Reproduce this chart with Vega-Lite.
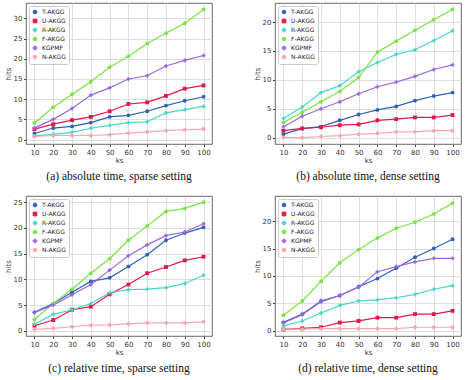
{
"$schema":"https://vega.github.io/schema/vega-lite/v6.json",
"padding":{"left":4,"top":2,"right":6,"bottom":0},
"background":"white",
"config":{
 "view":{"stroke":"#444","strokeWidth":0.8},
 "axis":{"labelFontSize":7,"titleFontSize":7,"labelFont":"DejaVu Sans","titleFont":"DejaVu Sans","titleFontWeight":"normal","labelColor":"#333","titleColor":"#333","gridColor":"#d6d6d6","gridWidth":0.8,"tickColor":"#444","tickSize":2.5,"domain":false,"labelPadding":1.5,"titlePadding":1.5},
 "legend":{"orient":"top-left","offset":3,"fillColor":"white","strokeColor":"#cccccc","cornerRadius":2,"padding":3,"labelFontSize":6,"labelFont":"DejaVu Sans","labelColor":"#222","symbolSize":14,"rowPadding":1,"symbolStrokeWidth":1,"labelOffset":4},
 "title":{"font":"Liberation Serif","fontSize":11.5,"fontWeight":"normal","color":"#111","orient":"bottom","frame":"group","anchor":"middle","offset":7}
},
"data":{"values":[
{"p":"a","m":"T-AKGG","ks":10,"v":1.5},{"p":"a","m":"T-AKGG","ks":20,"v":2.85},{"p":"a","m":"T-AKGG","ks":30,"v":3.25},{"p":"a","m":"T-AKGG","ks":40,"v":4.2},{"p":"a","m":"T-AKGG","ks":50,"v":5.6},{"p":"a","m":"T-AKGG","ks":60,"v":6.0},{"p":"a","m":"T-AKGG","ks":70,"v":7.0},{"p":"a","m":"T-AKGG","ks":80,"v":8.4},{"p":"a","m":"T-AKGG","ks":90,"v":9.6},{"p":"a","m":"T-AKGG","ks":100,"v":10.6},
{"p":"a","m":"U-AKGG","ks":10,"v":2.6},{"p":"a","m":"U-AKGG","ks":20,"v":3.8},{"p":"a","m":"U-AKGG","ks":30,"v":4.8},{"p":"a","m":"U-AKGG","ks":40,"v":5.6},{"p":"a","m":"U-AKGG","ks":50,"v":7.0},{"p":"a","m":"U-AKGG","ks":60,"v":8.8},{"p":"a","m":"U-AKGG","ks":70,"v":9.2},{"p":"a","m":"U-AKGG","ks":80,"v":10.8},{"p":"a","m":"U-AKGG","ks":90,"v":12.6},{"p":"a","m":"U-AKGG","ks":100,"v":13.4},
{"p":"a","m":"R-AKGG","ks":10,"v":0.9},{"p":"a","m":"R-AKGG","ks":20,"v":1.3},{"p":"a","m":"R-AKGG","ks":30,"v":1.8},{"p":"a","m":"R-AKGG","ks":40,"v":2.8},{"p":"a","m":"R-AKGG","ks":50,"v":3.5},{"p":"a","m":"R-AKGG","ks":60,"v":4.2},{"p":"a","m":"R-AKGG","ks":70,"v":4.4},{"p":"a","m":"R-AKGG","ks":80,"v":6.6},{"p":"a","m":"R-AKGG","ks":90,"v":7.4},{"p":"a","m":"R-AKGG","ks":100,"v":8.2},
{"p":"a","m":"F-AKGG","ks":10,"v":4.1},{"p":"a","m":"F-AKGG","ks":20,"v":8.0},{"p":"a","m":"F-AKGG","ks":30,"v":11.2},{"p":"a","m":"F-AKGG","ks":40,"v":14.3},{"p":"a","m":"F-AKGG","ks":50,"v":17.9},{"p":"a","m":"F-AKGG","ks":60,"v":20.6},{"p":"a","m":"F-AKGG","ks":70,"v":23.8},{"p":"a","m":"F-AKGG","ks":80,"v":26.3},{"p":"a","m":"F-AKGG","ks":90,"v":28.8},{"p":"a","m":"F-AKGG","ks":100,"v":32.2},
{"p":"a","m":"KGPMF","ks":10,"v":2.9},{"p":"a","m":"KGPMF","ks":20,"v":5.0},{"p":"a","m":"KGPMF","ks":30,"v":7.7},{"p":"a","m":"KGPMF","ks":40,"v":11.0},{"p":"a","m":"KGPMF","ks":50,"v":12.8},{"p":"a","m":"KGPMF","ks":60,"v":15.0},{"p":"a","m":"KGPMF","ks":70,"v":15.8},{"p":"a","m":"KGPMF","ks":80,"v":18.2},{"p":"a","m":"KGPMF","ks":90,"v":19.6},{"p":"a","m":"KGPMF","ks":100,"v":20.8},
{"p":"a","m":"N-AKGG","ks":10,"v":0.8},{"p":"a","m":"N-AKGG","ks":20,"v":1.0},{"p":"a","m":"N-AKGG","ks":30,"v":1.0},{"p":"a","m":"N-AKGG","ks":40,"v":1.0},{"p":"a","m":"N-AKGG","ks":50,"v":1.2},{"p":"a","m":"N-AKGG","ks":60,"v":1.6},{"p":"a","m":"N-AKGG","ks":70,"v":1.9},{"p":"a","m":"N-AKGG","ks":80,"v":2.2},{"p":"a","m":"N-AKGG","ks":90,"v":2.4},{"p":"a","m":"N-AKGG","ks":100,"v":2.6},
{"p":"b","m":"T-AKGG","ks":10,"v":0.6},{"p":"b","m":"T-AKGG","ks":20,"v":1.55},{"p":"b","m":"T-AKGG","ks":30,"v":1.9},{"p":"b","m":"T-AKGG","ks":40,"v":3.0},{"p":"b","m":"T-AKGG","ks":50,"v":4.0},{"p":"b","m":"T-AKGG","ks":60,"v":4.8},{"p":"b","m":"T-AKGG","ks":70,"v":5.4},{"p":"b","m":"T-AKGG","ks":80,"v":6.4},{"p":"b","m":"T-AKGG","ks":90,"v":7.2},{"p":"b","m":"T-AKGG","ks":100,"v":7.8},
{"p":"b","m":"U-AKGG","ks":10,"v":1.2},{"p":"b","m":"U-AKGG","ks":20,"v":1.6},{"p":"b","m":"U-AKGG","ks":30,"v":1.8},{"p":"b","m":"U-AKGG","ks":40,"v":2.15},{"p":"b","m":"U-AKGG","ks":50,"v":2.3},{"p":"b","m":"U-AKGG","ks":60,"v":3.0},{"p":"b","m":"U-AKGG","ks":70,"v":3.2},{"p":"b","m":"U-AKGG","ks":80,"v":3.5},{"p":"b","m":"U-AKGG","ks":90,"v":3.5},{"p":"b","m":"U-AKGG","ks":100,"v":3.9},
{"p":"b","m":"R-AKGG","ks":10,"v":3.3},{"p":"b","m":"R-AKGG","ks":20,"v":5.3},{"p":"b","m":"R-AKGG","ks":30,"v":7.8},{"p":"b","m":"R-AKGG","ks":40,"v":9.0},{"p":"b","m":"R-AKGG","ks":50,"v":11.4},{"p":"b","m":"R-AKGG","ks":60,"v":13.0},{"p":"b","m":"R-AKGG","ks":70,"v":14.4},{"p":"b","m":"R-AKGG","ks":80,"v":15.2},{"p":"b","m":"R-AKGG","ks":90,"v":16.8},{"p":"b","m":"R-AKGG","ks":100,"v":18.5},
{"p":"b","m":"F-AKGG","ks":10,"v":2.6},{"p":"b","m":"F-AKGG","ks":20,"v":4.4},{"p":"b","m":"F-AKGG","ks":30,"v":6.2},{"p":"b","m":"F-AKGG","ks":40,"v":8.0},{"p":"b","m":"F-AKGG","ks":50,"v":10.4},{"p":"b","m":"F-AKGG","ks":60,"v":14.8},{"p":"b","m":"F-AKGG","ks":70,"v":16.7},{"p":"b","m":"F-AKGG","ks":80,"v":18.6},{"p":"b","m":"F-AKGG","ks":90,"v":20.4},{"p":"b","m":"F-AKGG","ks":100,"v":22.2},
{"p":"b","m":"KGPMF","ks":10,"v":1.9},{"p":"b","m":"KGPMF","ks":20,"v":3.7},{"p":"b","m":"KGPMF","ks":30,"v":5.0},{"p":"b","m":"KGPMF","ks":40,"v":6.2},{"p":"b","m":"KGPMF","ks":50,"v":7.6},{"p":"b","m":"KGPMF","ks":60,"v":8.8},{"p":"b","m":"KGPMF","ks":70,"v":9.6},{"p":"b","m":"KGPMF","ks":80,"v":10.6},{"p":"b","m":"KGPMF","ks":90,"v":11.8},{"p":"b","m":"KGPMF","ks":100,"v":12.6},
{"p":"b","m":"N-AKGG","ks":10,"v":0.05},{"p":"b","m":"N-AKGG","ks":20,"v":0.0},{"p":"b","m":"N-AKGG","ks":30,"v":0.2},{"p":"b","m":"N-AKGG","ks":40,"v":0.35},{"p":"b","m":"N-AKGG","ks":50,"v":0.6},{"p":"b","m":"N-AKGG","ks":60,"v":0.75},{"p":"b","m":"N-AKGG","ks":70,"v":1.0},{"p":"b","m":"N-AKGG","ks":80,"v":1.0},{"p":"b","m":"N-AKGG","ks":90,"v":1.2},{"p":"b","m":"N-AKGG","ks":100,"v":1.2},
{"p":"c","m":"T-AKGG","ks":10,"v":3.6},{"p":"c","m":"T-AKGG","ks":20,"v":5.3},{"p":"c","m":"T-AKGG","ks":30,"v":7.5},{"p":"c","m":"T-AKGG","ks":40,"v":9.6},{"p":"c","m":"T-AKGG","ks":50,"v":10.3},{"p":"c","m":"T-AKGG","ks":60,"v":12.5},{"p":"c","m":"T-AKGG","ks":70,"v":14.8},{"p":"c","m":"T-AKGG","ks":80,"v":17.6},{"p":"c","m":"T-AKGG","ks":90,"v":19.0},{"p":"c","m":"T-AKGG","ks":100,"v":20.1},
{"p":"c","m":"U-AKGG","ks":10,"v":1.0},{"p":"c","m":"U-AKGG","ks":20,"v":2.1},{"p":"c","m":"U-AKGG","ks":30,"v":4.1},{"p":"c","m":"U-AKGG","ks":40,"v":4.7},{"p":"c","m":"U-AKGG","ks":50,"v":7.1},{"p":"c","m":"U-AKGG","ks":60,"v":9.0},{"p":"c","m":"U-AKGG","ks":70,"v":11.2},{"p":"c","m":"U-AKGG","ks":80,"v":12.4},{"p":"c","m":"U-AKGG","ks":90,"v":13.7},{"p":"c","m":"U-AKGG","ks":100,"v":14.4},
{"p":"c","m":"R-AKGG","ks":10,"v":1.3},{"p":"c","m":"R-AKGG","ks":20,"v":3.2},{"p":"c","m":"R-AKGG","ks":30,"v":4.1},{"p":"c","m":"R-AKGG","ks":40,"v":5.3},{"p":"c","m":"R-AKGG","ks":50,"v":7.4},{"p":"c","m":"R-AKGG","ks":60,"v":8.0},{"p":"c","m":"R-AKGG","ks":70,"v":8.1},{"p":"c","m":"R-AKGG","ks":80,"v":8.4},{"p":"c","m":"R-AKGG","ks":90,"v":9.2},{"p":"c","m":"R-AKGG","ks":100,"v":10.8},
{"p":"c","m":"F-AKGG","ks":10,"v":2.2},{"p":"c","m":"F-AKGG","ks":20,"v":5.3},{"p":"c","m":"F-AKGG","ks":30,"v":8.1},{"p":"c","m":"F-AKGG","ks":40,"v":11.2},{"p":"c","m":"F-AKGG","ks":50,"v":14.0},{"p":"c","m":"F-AKGG","ks":60,"v":17.6},{"p":"c","m":"F-AKGG","ks":70,"v":20.4},{"p":"c","m":"F-AKGG","ks":80,"v":23.2},{"p":"c","m":"F-AKGG","ks":90,"v":23.8},{"p":"c","m":"F-AKGG","ks":100,"v":25.0},
{"p":"c","m":"KGPMF","ks":10,"v":3.6},{"p":"c","m":"KGPMF","ks":20,"v":5.0},{"p":"c","m":"KGPMF","ks":30,"v":7.0},{"p":"c","m":"KGPMF","ks":40,"v":9.0},{"p":"c","m":"KGPMF","ks":50,"v":11.8},{"p":"c","m":"KGPMF","ks":60,"v":14.6},{"p":"c","m":"KGPMF","ks":70,"v":16.7},{"p":"c","m":"KGPMF","ks":80,"v":18.5},{"p":"c","m":"KGPMF","ks":90,"v":19.2},{"p":"c","m":"KGPMF","ks":100,"v":20.8},
{"p":"c","m":"N-AKGG","ks":10,"v":0.3},{"p":"c","m":"N-AKGG","ks":20,"v":0.5},{"p":"c","m":"N-AKGG","ks":30,"v":0.8},{"p":"c","m":"N-AKGG","ks":40,"v":1.1},{"p":"c","m":"N-AKGG","ks":50,"v":1.15},{"p":"c","m":"N-AKGG","ks":60,"v":1.35},{"p":"c","m":"N-AKGG","ks":70,"v":1.55},{"p":"c","m":"N-AKGG","ks":80,"v":1.55},{"p":"c","m":"N-AKGG","ks":90,"v":1.55},{"p":"c","m":"N-AKGG","ks":100,"v":1.75},
{"p":"d","m":"T-AKGG","ks":10,"v":1.5},{"p":"d","m":"T-AKGG","ks":20,"v":3.0},{"p":"d","m":"T-AKGG","ks":30,"v":5.4},{"p":"d","m":"T-AKGG","ks":40,"v":6.4},{"p":"d","m":"T-AKGG","ks":50,"v":8.0},{"p":"d","m":"T-AKGG","ks":60,"v":9.5},{"p":"d","m":"T-AKGG","ks":70,"v":11.4},{"p":"d","m":"T-AKGG","ks":80,"v":13.4},{"p":"d","m":"T-AKGG","ks":90,"v":15.0},{"p":"d","m":"T-AKGG","ks":100,"v":16.7},
{"p":"d","m":"U-AKGG","ks":10,"v":0.2},{"p":"d","m":"U-AKGG","ks":20,"v":0.4},{"p":"d","m":"U-AKGG","ks":30,"v":0.6},{"p":"d","m":"U-AKGG","ks":40,"v":1.45},{"p":"d","m":"U-AKGG","ks":50,"v":1.75},{"p":"d","m":"U-AKGG","ks":60,"v":2.35},{"p":"d","m":"U-AKGG","ks":70,"v":2.35},{"p":"d","m":"U-AKGG","ks":80,"v":3.0},{"p":"d","m":"U-AKGG","ks":90,"v":3.0},{"p":"d","m":"U-AKGG","ks":100,"v":3.6},
{"p":"d","m":"R-AKGG","ks":10,"v":0.85},{"p":"d","m":"R-AKGG","ks":20,"v":1.75},{"p":"d","m":"R-AKGG","ks":30,"v":3.2},{"p":"d","m":"R-AKGG","ks":40,"v":4.6},{"p":"d","m":"R-AKGG","ks":50,"v":5.4},{"p":"d","m":"R-AKGG","ks":60,"v":5.6},{"p":"d","m":"R-AKGG","ks":70,"v":6.0},{"p":"d","m":"R-AKGG","ks":80,"v":6.6},{"p":"d","m":"R-AKGG","ks":90,"v":7.55},{"p":"d","m":"R-AKGG","ks":100,"v":8.2},
{"p":"d","m":"F-AKGG","ks":10,"v":2.8},{"p":"d","m":"F-AKGG","ks":20,"v":5.4},{"p":"d","m":"F-AKGG","ks":30,"v":9.0},{"p":"d","m":"F-AKGG","ks":40,"v":12.4},{"p":"d","m":"F-AKGG","ks":50,"v":14.8},{"p":"d","m":"F-AKGG","ks":60,"v":16.9},{"p":"d","m":"F-AKGG","ks":70,"v":18.7},{"p":"d","m":"F-AKGG","ks":80,"v":19.8},{"p":"d","m":"F-AKGG","ks":90,"v":21.3},{"p":"d","m":"F-AKGG","ks":100,"v":23.3},
{"p":"d","m":"KGPMF","ks":10,"v":1.4},{"p":"d","m":"KGPMF","ks":20,"v":2.9},{"p":"d","m":"KGPMF","ks":30,"v":5.25},{"p":"d","m":"KGPMF","ks":40,"v":6.4},{"p":"d","m":"KGPMF","ks":50,"v":7.9},{"p":"d","m":"KGPMF","ks":60,"v":10.75},{"p":"d","m":"KGPMF","ks":70,"v":11.7},{"p":"d","m":"KGPMF","ks":80,"v":12.55},{"p":"d","m":"KGPMF","ks":90,"v":13.2},{"p":"d","m":"KGPMF","ks":100,"v":13.2},
{"p":"d","m":"N-AKGG","ks":10,"v":0.25},{"p":"d","m":"N-AKGG","ks":20,"v":0.25},{"p":"d","m":"N-AKGG","ks":30,"v":0.35},{"p":"d","m":"N-AKGG","ks":40,"v":0.35},{"p":"d","m":"N-AKGG","ks":50,"v":0.35},{"p":"d","m":"N-AKGG","ks":60,"v":0.35},{"p":"d","m":"N-AKGG","ks":70,"v":0.35},{"p":"d","m":"N-AKGG","ks":80,"v":0.6},{"p":"d","m":"N-AKGG","ks":90,"v":0.6},{"p":"d","m":"N-AKGG","ks":100,"v":0.6}
]},
"columns":2,
"spacing":{"column":40,"row":12},
"resolve":{"scale":{"y":"independent","color":"independent","shape":"independent"},"legend":{"color":"independent","shape":"independent"}},
"concat":[
{"title":{"text":"(a)  absolute time, sparse setting"},"width":186,"height":141,
 "transform":[{"filter":"datum.p==='a'"}],
 "encoding":{
  "x":{"field":"ks","type":"quantitative","title":"ks","scale":{"domain":[5.5,104.5],"nice":false},"axis":{"values":[10,20,30,40,50,60,70,80,90,100]}},
  "y":{"field":"v","type":"quantitative","title":"hits","scale":{"domain":[-1.1,33.8],"nice":false,"zero":false},"axis":{"values":[0,5,10,15,20,25,30]}},
  "color":{"field":"m","type":"nominal","title":null,"scale":{"domain":["T-AKGG","U-AKGG","R-AKGG","F-AKGG","KGPMF","N-AKGG"],"range":["#2e62b4","#e3184a","#48d6c6","#7ce448","#9a6ae0","#f5a9ae"]}}
 },
 "layer":[
  {"mark":{"type":"line","strokeWidth":1.2}},
  {"mark":{"type":"point","filled":true,"opacity":1,"size":15},"encoding":{"shape":{"field":"m","type":"nominal","title":null,"scale":{"domain":["T-AKGG","U-AKGG","R-AKGG","F-AKGG","KGPMF","N-AKGG"],"range":["circle","square","cross","circle","cross","circle"]}}}}
 ]},
{"title":{"text":"(b)  absolute time, dense setting"},"width":186,"height":141,
 "transform":[{"filter":"datum.p==='b'"}],
 "encoding":{
  "x":{"field":"ks","type":"quantitative","title":"ks","scale":{"domain":[5.5,104.5],"nice":false},"axis":{"values":[10,20,30,40,50,60,70,80,90,100]}},
  "y":{"field":"v","type":"quantitative","title":"hits","scale":{"domain":[-1.1,23.3],"nice":false,"zero":false},"axis":{"values":[0,5,10,15,20]}},
  "color":{"field":"m","type":"nominal","title":null,"scale":{"domain":["T-AKGG","U-AKGG","R-AKGG","F-AKGG","KGPMF","N-AKGG"],"range":["#2e62b4","#e3184a","#48d6c6","#7ce448","#9a6ae0","#f5a9ae"]}}
 },
 "layer":[
  {"mark":{"type":"line","strokeWidth":1.2}},
  {"mark":{"type":"point","filled":true,"opacity":1,"size":15},"encoding":{"shape":{"field":"m","type":"nominal","title":null,"scale":{"domain":["T-AKGG","U-AKGG","R-AKGG","F-AKGG","KGPMF","N-AKGG"],"range":["circle","square","cross","circle","cross","circle"]}}}}
 ]},
{"title":{"text":"(c)  relative time, sparse setting"},"width":186,"height":140,
 "transform":[{"filter":"datum.p==='c'"}],
 "encoding":{
  "x":{"field":"ks","type":"quantitative","title":"ks","scale":{"domain":[5.5,104.5],"nice":false},"axis":{"values":[10,20,30,40,50,60,70,80,90,100]}},
  "y":{"field":"v","type":"quantitative","title":"hits","scale":{"domain":[-1.0,26.2],"nice":false,"zero":false},"axis":{"values":[0,5,10,15,20,25]}},
  "color":{"field":"m","type":"nominal","title":null,"scale":{"domain":["T-AKGG","U-AKGG","R-AKGG","F-AKGG","KGPMF","N-AKGG"],"range":["#2e62b4","#e3184a","#48d6c6","#7ce448","#9a6ae0","#f5a9ae"]}}
 },
 "layer":[
  {"mark":{"type":"line","strokeWidth":1.2}},
  {"mark":{"type":"point","filled":true,"opacity":1,"size":15},"encoding":{"shape":{"field":"m","type":"nominal","title":null,"scale":{"domain":["T-AKGG","U-AKGG","R-AKGG","F-AKGG","KGPMF","N-AKGG"],"range":["circle","square","cross","circle","cross","circle"]}}}}
 ]},
{"title":{"text":"(d)  relative time, dense setting"},"width":186,"height":140,
 "transform":[{"filter":"datum.p==='d'"}],
 "encoding":{
  "x":{"field":"ks","type":"quantitative","title":"ks","scale":{"domain":[5.5,104.5],"nice":false},"axis":{"values":[10,20,30,40,50,60,70,80,90,100]}},
  "y":{"field":"v","type":"quantitative","title":"hits","scale":{"domain":[-1.0,24.6],"nice":false,"zero":false},"axis":{"values":[0,5,10,15,20]}},
  "color":{"field":"m","type":"nominal","title":null,"scale":{"domain":["T-AKGG","U-AKGG","R-AKGG","F-AKGG","KGPMF","N-AKGG"],"range":["#2e62b4","#e3184a","#48d6c6","#7ce448","#9a6ae0","#f5a9ae"]}}
 },
 "layer":[
  {"mark":{"type":"line","strokeWidth":1.2}},
  {"mark":{"type":"point","filled":true,"opacity":1,"size":15},"encoding":{"shape":{"field":"m","type":"nominal","title":null,"scale":{"domain":["T-AKGG","U-AKGG","R-AKGG","F-AKGG","KGPMF","N-AKGG"],"range":["circle","square","cross","circle","cross","circle"]}}}}
 ]}
]
}
